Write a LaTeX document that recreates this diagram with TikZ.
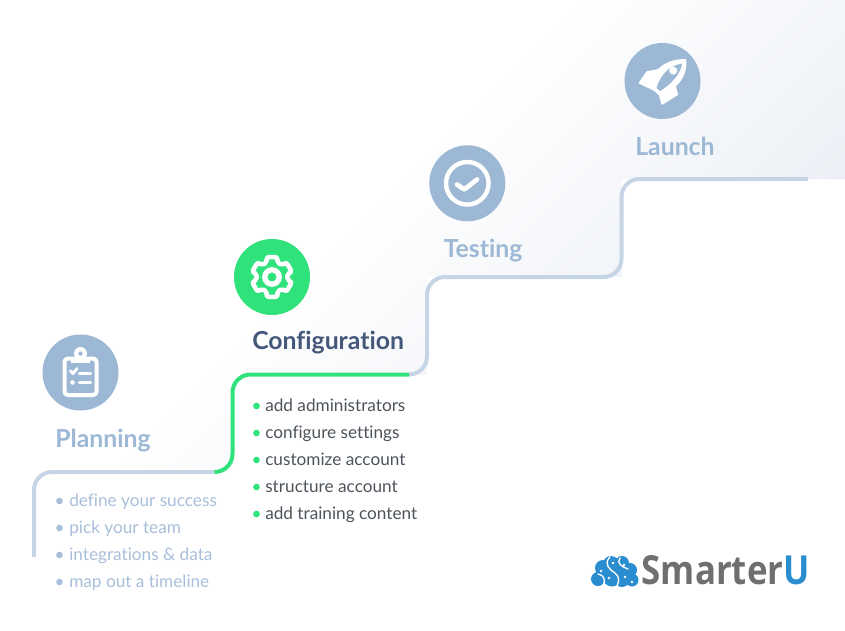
\documentclass[tikz,border=0pt]{standalone}
\usepackage{fontspec}
\setmainfont[Ligatures=NoCommon]{Lato}
\newfontfamily\logofont{Open Sans}
\usepackage{tikz}

\definecolor{stepblue}{HTML}{9DB8D5}
\definecolor{linkblue}{HTML}{C6D5E6}
\definecolor{listblue}{HTML}{A8BEDA}
\definecolor{stepgreen}{HTML}{2FE27B}
\definecolor{headnavy}{HTML}{45587A}
\definecolor{listgrey}{HTML}{4C535B}
\definecolor{glowblue}{HTML}{E2E8F1}
\definecolor{logoblue}{HTML}{2A8DD0}
\definecolor{logogrey}{HTML}{6E6F71}

\pgfdeclareverticalshading{stairglow}{100bp}{color(0bp)=(white); color(49bp)=(white); color(73bp)=(glowblue); color(100bp)=(glowblue)}

\tikzset{
    stepdisc/.style={circle, minimum size=57pt, inner sep=0pt, fill=stepblue},
    steplabel/.style={anchor=base west, inner sep=0pt, font=\fontsize{18.6}{20}\selectfont\bfseries, text=stepblue},
    itemtext/.style={anchor=base west, inner sep=0pt, font=\fontsize{12.9}{15}\selectfont},
    itemdot/.style={circle, minimum size=5pt, inner sep=0pt},
    stairline/.style={line width=3pt, rounded corners=13.5pt},
    iconline/.style={draw=white, line width=3pt, line cap=round, line join=round},
    brainline/.style={draw=white, line width=1pt, line cap=round}
}

\begin{document}
\begin{tikzpicture}[x=0.75pt, y=-0.75pt]
    \useasboundingbox (0,0) rectangle (845,631);

    \begin{scope}
        \clip (0,0) -- (845,0) -- (845,179) -- (621.5,179) -- (621.5,277) -- (427,277) -- (427,375) -- (232.5,375) -- (232.5,472) -- (34,472) -- (0,472) -- cycle;
        \shade[shading=stairglow, shading angle=-135] (-100,-300) rectangle (900,700);
    \end{scope}

    \coordinate (startfoot) at (34,557);
    \coordinate (cornerA) at (34,472);
    \coordinate (greenbeg) at (214.5,472);
    \coordinate (cornerB) at (232.5,472);
    \coordinate (cornerC) at (232.5,374.5);
    \coordinate (greenend) at (409,374.5);
    \coordinate (cornerD) at (427,374.5);
    \coordinate (cornerE) at (427,277);
    \coordinate (cornerF) at (621.5,277);
    \coordinate (cornerG) at (621.5,179);
    \coordinate (stairend) at (808,179);

    \draw[stairline, linkblue] (startfoot) -- (cornerA) -- (greenbeg);
    \draw[stairline, linkblue] (greenend) -- (cornerD) -- (cornerE) -- (cornerF) -- (cornerG) -- (stairend);
    \draw[stairline, stepgreen] (greenbeg) -- (cornerB) -- (cornerC) -- (greenend);

    \node[stepdisc] (planning) at (80.5,372.5) {};
    \node[stepdisc, fill=stepgreen] (configuration) at (272,277) {};
    \node[stepdisc] (testing) at (467.3,183.3) {};
    \node[stepdisc] (launch) at (662.5,81) {};

    \node[steplabel] (planninglabel) at (55,447.5) {Planning};
    \node[steplabel, text=headnavy] (configurationlabel) at (252,349) {Configuration};
    \node[steplabel] (testinglabel) at (443.5,257) {Testing};
    \node[steplabel] (launchlabel) at (635,155.5) {Launch};

    \foreach \i/\y/\txt in {1/501/define your success, 2/528/pick your team, 3/555/integrations \& data, 4/582/map out a timeline} {
        \node[itemdot, fill=listblue] (plandot\i) at (59.5,\y) {};
        \node[itemtext, text=listblue] (planitem\i) at (69,\y+5.5) {\txt};
    }
    \foreach \i/\y/\txt in {1/406/add administrators, 2/433/configure settings, 3/460/customize account, 4/487/structure account, 5/514/add training content} {
        \node[itemdot, fill=stepgreen] (configdot\i) at (256.5,\y) {};
        \node[itemtext, text=listgrey] (configitem\i) at (265,\y+5.5) {\txt};
    }

    % clipboard
    \fill[white] (80.5,353.5) circle (6.5);
    \fill[stepblue] (80.5,353.5) circle (2.2);
    \draw[iconline, rounded corners=2.5pt] (64.5,358.5) rectangle (96.5,395);
    \fill[white] (71,357) rectangle (90,362.5);
    \draw[iconline, line width=2.2pt] (70.5,371) -- (73,373.5) -- (77,368.5);
    \draw[iconline, line width=2.4pt] (79.5,373.5) -- (90.5,373.5);
    \fill[white] (72.5,382.5) circle (2.3);
    \draw[iconline, line width=2.4pt] (79.5,382.5) -- (90.5,382.5);

    % gear
    \draw[iconline, line width=3.4pt, rounded corners=1.5pt, shift={(272,277)}] (75:20.5)
        \foreach \a in {90,150,210,270,330,30} {
            -- (\a-15:20.5) -- (\a+15:20.5) -- (\a+20:15.5) -- (\a+40:15.5)
        } -- cycle;
    \draw[iconline, line width=4pt] (272,277) circle (7.2);

    % check
    \draw[iconline, line width=3.3pt] (467.3,183.3) circle (21.3);
    \draw[iconline, line width=3.5pt] (457,184.5) -- (464.3,189.5) -- (477,179.5);

    % rocket
    \fill[white, draw=white, line width=1.2pt, line join=round] (685.5,60) .. controls (686.5,69) and (683,79) .. (675,86) -- (677.3,94.5) -- (662,104) -- (659.8,95) -- (654.3,90) -- (639.5,83) -- (647,72) -- (658.5,69.8) .. controls (665,63) and (675,59.5) .. (685.5,60) -- cycle;
    \fill[stepblue] (656.5,88) .. controls (660,76) and (668,66) .. (682,63.5) .. controls (681.5,72) and (672,84) .. (660,91) -- cycle;
    \fill[white] (673.3,70.7) circle (4);

    % logo
    \fill[logoblue] (598,579) circle (7) (603,568) circle (8) (611,564) circle (8) (612,577) circle (9.5) (617,570) circle (9)
        (622,563) circle (7) (630,570) circle (7) (632,580) circle (6.5) (622,579) circle (8);
    \draw[brainline] (610,557) .. controls (603,564) and (610,570) .. (615,573) .. controls (620,577) and (619,582) .. (617,586);
    \draw[brainline] (598,574) .. controls (604,575) and (606,580) .. (603,586);
    \draw[brainline] (620,558) .. controls (616,563) and (622,567) .. (628,569);
    \fill[white] (601,571) circle (1.4) (613,563) circle (1.4) (609,578) circle (1.4) (625,577) circle (1.4) (632,582) circle (1.4) (624,565) circle (1.4);
    \node[anchor=base west, inner sep=0pt, font=\logofont\fontsize{30}{32}\selectfont\bfseries, text=logogrey] (logotext) at (641.5,584) {\scalebox{0.87}[1]{Smarter\textcolor{logoblue}{U}}};
\end{tikzpicture}
\end{document}
